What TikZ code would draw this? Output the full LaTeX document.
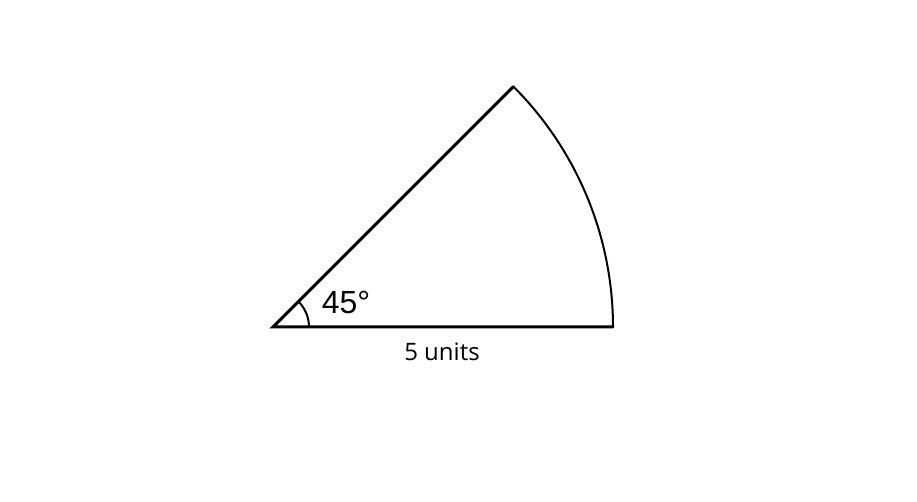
\documentclass[tikz,border=0pt]{standalone}
\usepackage{fontspec}
\setmainfont{Open Sans}
\newfontfamily\anglefont{Liberation Sans}
\usetikzlibrary{positioning,calc}

\begin{document}
\begin{tikzpicture}[
  x=0.5pt, y=0.5pt,                         % one unit = one pixel of the reference
  side/.style      = {line width=1.5pt, line cap=round},
  rim/.style       = {line width=1pt},
  anglemark/.style = {line width=1pt},
  label/.style     = {inner sep=0pt, font=\fontsize{12}{14}\selectfont},
  degree/.style    = {inner sep=0pt, font=\anglefont\fontsize{16}{19}\selectfont}
]
\useasboundingbox (0,0) rectangle (917,502);

\coordinate (O) at (273,175);
\coordinate (B) at (613,175);
\coordinate (T) at ($(O)+(45:340)$);

\node[degree] (ang) at (346,200) {45°};
\node[label]  (len) at (442,150) {5 units};

\draw[side] (B) -- (O) -- (T);
\draw[rim]  (B) arc (0:45:340);
\draw[anglemark] ([shift={(0:36)}]O) arc (0:45:36);

\end{tikzpicture}
\end{document}
